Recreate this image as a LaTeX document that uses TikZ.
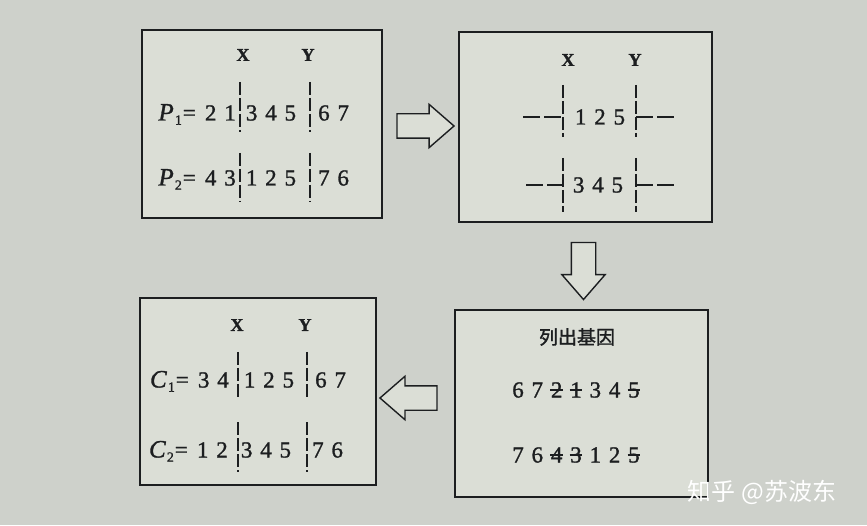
\documentclass[tikz,border=0pt]{standalone}
\usepackage{fontspec}
\setmainfont{Liberation Serif}
\newfontfamily\genefont[FakeBold=1.2]{Liberation Serif}
\newfontfamily\cjk{Noto Sans CJK SC}
\newfontfamily\cjkhead[FakeBold=1.5]{Noto Sans CJK SC}
\usetikzlibrary{shapes.arrows,positioning}
\definecolor{paper}{RGB}{206,209,203}
\definecolor{card}{RGB}{219,222,214}
\definecolor{ink}{RGB}{28,30,32}
\newcommand{\dsp}{\hspace{0.34em}}
\newcommand{\lab}[2]{{\fontsize{25}{25}\selectfont\itshape #1}\kern0.05em\raisebox{-0.4ex}{\fontsize{14}{14}\selectfont #2}\kern0.04em}
\newcommand{\crossed}[1]{\ooalign{#1\cr\hidewidth\rule[0.3em]{0.55em}{0.07em}\hidewidth\cr}}
\tikzset{
    box/.style={draw=ink, line width=1.6pt, fill=card, inner sep=0pt},
    blockarrow/.style={single arrow, draw=ink, line width=1.4pt, fill=card,
        inner sep=0pt, inner ysep=11.5pt, single arrow head extend=9.5pt,
        single arrow tip angle=82, minimum height=57pt},
    axis/.style={font=\genefont\fontsize{18}{18}\selectfont\bfseries, inner sep=0pt, text=ink},
    gene/.style={font=\genefont\fontsize{23}{23}\selectfont, inner sep=0pt, text=ink},
    cut/.style={ink, line width=1.4pt, dash pattern=on 13pt off 3pt},
    tail/.style={ink, line width=1.4pt, dash pattern=on 17pt off 4pt}
}

\begin{document}
\begin{tikzpicture}[x=1pt,y=1pt]
    \useasboundingbox[fill=paper] (0,0) rectangle (867,525);
    % the four boxes
    \node[box, minimum width=240pt, minimum height=188pt] (parents) at (262,401) {};
    \node[box, minimum width=253pt, minimum height=190pt] (swap) at (585.5,398) {};
    \node[box, minimum width=253pt, minimum height=187pt] (genes) at (581.5,121.5) {};
    \node[box, minimum width=236pt, minimum height=187pt] (children) at (258,133.5) {};
    % block arrows between the boxes
    \node[blockarrow] (toswap) at (418.5,399) {};
    \node[blockarrow, rotate=-90] (togenes) at (583.5,261) {};
    \node[blockarrow, rotate=180] (tochildren) at (415.5,127) {};

    % Parents P_1, P_2
    \node[axis] (px) at (243,470) {X};
    \node[axis] (py) at (308,470) {Y};
    \node[gene, anchor=base east] (p1a) at (236,404.5) {\lab{P}{1}=\hspace{0.4em}2\dsp1};
    \node[gene, anchor=base] (p1b) at (271,404.5) {3\dsp4\dsp5};
    \node[gene, anchor=base west] (p1c) at (318,404.5) {6\dsp7};
    \node[gene, anchor=base east] (p2a) at (236,339.5) {\lab{P}{2}=\hspace{0.4em}4\dsp3};
    \node[gene, anchor=base] (p2b) at (271,339.5) {1\dsp2\dsp5};
    \node[gene, anchor=base west] (p2c) at (318,339.5) {7\dsp6};
    \draw[cut] (240,443) -- (240,393);
    \draw[cut] (310,443) -- (310,393);
    \draw[cut] (240,372) -- (240,323);
    \draw[cut] (310,372) -- (310,323);

    % Swapped middle parts
    \node[axis] (sx) at (568,465) {X};
    \node[axis] (sy) at (635,465) {Y};
    \node[gene, anchor=base] (s1) at (600,400.5) {1\dsp2\dsp5};
    \node[gene, anchor=base] (s2) at (598,332.5) {3\dsp4\dsp5};
    \draw[cut] (563,440) -- (563,388);
    \draw[cut] (636,440) -- (636,388);
    \draw[cut] (563,367) -- (563,313);
    \draw[cut] (636,367) -- (636,313);
    \draw[tail] (523,408) -- (563,408);
    \draw[tail] (636,408) -- (676,408);
    \draw[tail] (526,340) -- (563,340);
    \draw[tail] (636,340) -- (676,340);

    % List the genes
    \node[font=\cjkhead\fontsize{19}{19}\selectfont, text=ink, inner sep=0pt] (head) at (577,188) {列出基因};
    \node[gene, anchor=base] (g1) at (576,127.5)
        {6\dsp7\dsp\crossed{2}\dsp\crossed{1}\dsp3\dsp4\dsp\crossed{5}};
    \node[gene, anchor=base] (g2) at (576,62.5)
        {7\dsp6\dsp\crossed{4}\dsp\crossed{3}\dsp1\dsp2\dsp\crossed{5}};

    % Children C_1, C_2
    \node[axis] (cx) at (237,200) {X};
    \node[axis] (cy) at (305,200) {Y};
    \node[gene, anchor=base east] (c1a) at (229,137.5) {\lab{C}{1}=\hspace{0.4em}3\dsp4};
    \node[gene, anchor=base] (c1b) at (269,137.5) {1\dsp2\dsp5};
    \node[gene, anchor=base west] (c1c) at (315,137.5) {6\dsp7};
    \node[gene, anchor=base east] (c2a) at (228,67.5) {\lab{C}{2}=\hspace{0.4em}1\dsp2};
    \node[gene, anchor=base] (c2b) at (266,67.5) {3\dsp4\dsp5};
    \node[gene, anchor=base west] (c2c) at (312,67.5) {7\dsp6};
    \draw[cut] (238,173) -- (238,127);
    \draw[cut] (307,173) -- (307,127);
    \draw[cut] (238,103) -- (238,53);
    \draw[cut] (307,103) -- (307,53);

    % watermark
    \node[font=\cjk\fontsize{24}{24}\selectfont, text=white, inner sep=0pt] (mark) at (762,33) {知乎 @苏波东};
\end{tikzpicture}
\end{document}
